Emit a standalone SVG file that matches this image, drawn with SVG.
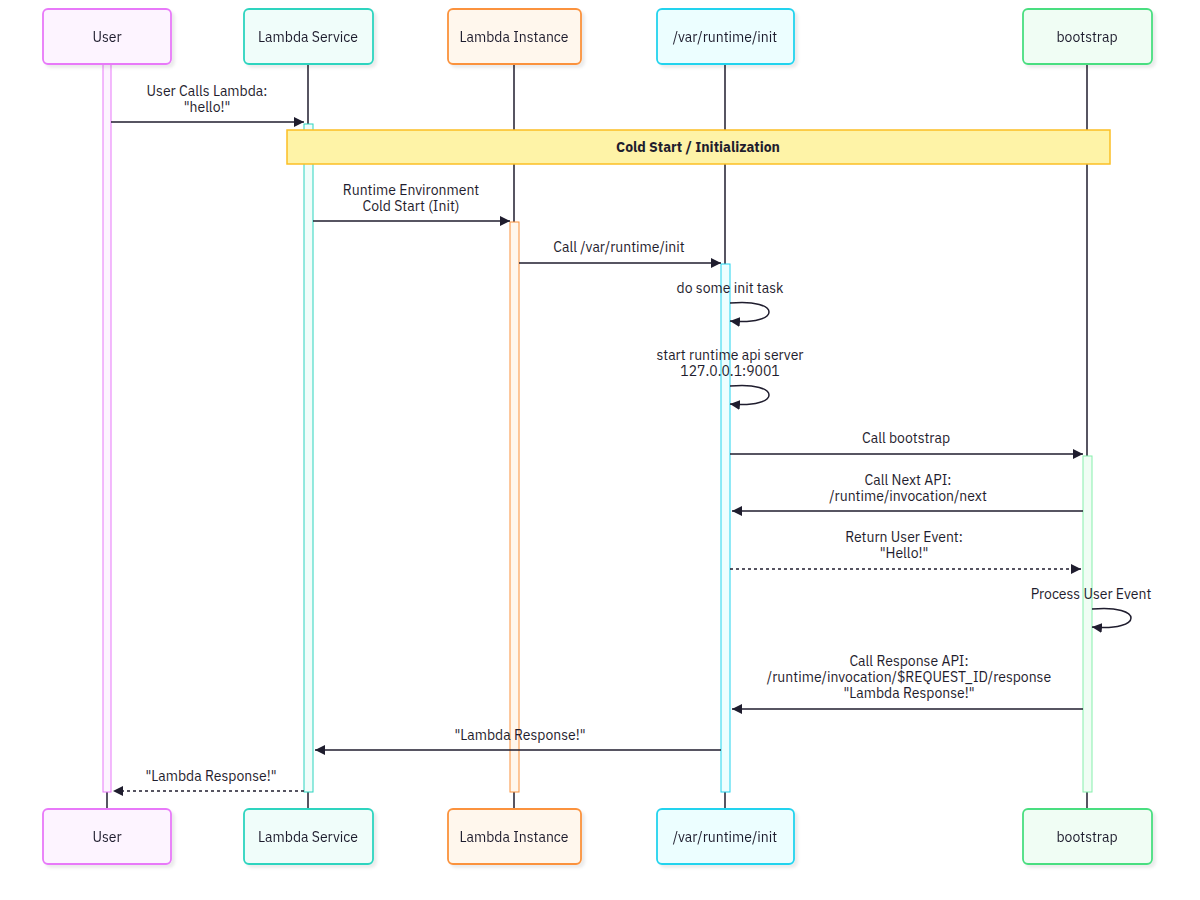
<svg xmlns="http://www.w3.org/2000/svg" width="1200" height="900" viewBox="0 0 1200 900">
<defs>
<style>
text{font-family:"IBM Plex Sans",Inter,"Noto Sans","DejaVu Sans",sans-serif;font-size:14px;fill:#1f1d2e;text-anchor:middle}
.life{stroke:#1f1d2e;stroke-width:1.5}
.msg{stroke:#1f1d2e;stroke-width:1.5;fill:none}
.dash{stroke-dasharray:3 3}
.box{stroke-width:1.8}
.bold{font-weight:bold}
</style>
<marker id="ah" viewBox="0 0 10 10" refX="10" refY="5" markerWidth="10" markerHeight="10" markerUnits="userSpaceOnUse" orient="auto">
<path d="M0,0 L10,5 L0,10 z" fill="#1f1d2e"/>
</marker>
<filter id="sh" x="-10%" y="-10%" width="130%" height="140%">
<feDropShadow dx="3" dy="3" stdDeviation="1.5" flood-color="#000" flood-opacity="0.08"/>
</filter>
</defs>
<rect width="1200" height="900" fill="#ffffff"/>

<!-- lifelines -->
<g id="lifelines">
<line class="life" x1="107" y1="64" x2="107" y2="809"/>
<line class="life" x1="308" y1="64" x2="308" y2="809"/>
<line class="life" x1="514" y1="64" x2="514" y2="809"/>
<line class="life" x1="725" y1="64" x2="725" y2="809"/>
<line class="life" x1="1087" y1="64" x2="1087" y2="809"/>
</g>

<!-- activations -->
<g id="activations">
<rect x="103" y="64" width="8" height="728" fill="#fdf4ff" stroke="#e879f9" stroke-width="1"/>
<rect x="304" y="124" width="9" height="668" fill="#f0fdfa" stroke="#2dd4bf" stroke-width="1"/>
<rect x="510" y="222" width="9" height="570" fill="#fff7ed" stroke="#fb923c" stroke-width="1"/>
<rect x="721" y="264" width="9" height="528" fill="#ecfeff" stroke="#22d3ee" stroke-width="1"/>
<rect x="1083" y="456" width="9" height="336" fill="#f0fdf4" stroke="#86efac" stroke-width="1"/>
</g>

<!-- note -->
<g id="note-coldstart">
<rect x="287" y="130" width="823" height="34" fill="#fef3a7" stroke="#fbbf24" stroke-width="1.5"/>
<text x="698" y="152" class="bold" font-size="13.5">Cold Start / Initialization</text>
</g>

<!-- participants top -->
<g id="p-user" filter="url(#sh)">
<rect class="box" x="43" y="9" width="128" height="55" rx="5" fill="#fdf4ff" stroke="#e879f9"/>
<text x="107" y="42">User</text>
</g>
<g id="p-lambda-service" filter="url(#sh)">
<rect class="box" x="244" y="9" width="129" height="55" rx="5" fill="#f0fdfa" stroke="#2dd4bf"/>
<text x="308" y="42">Lambda Service</text>
</g>
<g id="p-lambda-instance" filter="url(#sh)">
<rect class="box" x="448" y="9" width="133" height="55" rx="5" fill="#fff7ed" stroke="#fb923c"/>
<text x="514" y="42">Lambda Instance</text>
</g>
<g id="p-init" filter="url(#sh)">
<rect class="box" x="657" y="9" width="137" height="55" rx="5" fill="#ecfeff" stroke="#22d3ee"/>
<text x="725" y="42">/var/runtime/init</text>
</g>
<g id="p-bootstrap" filter="url(#sh)">
<rect class="box" x="1023" y="9" width="129" height="55" rx="5" fill="#f0fdf4" stroke="#4ade80"/>
<text x="1087" y="42">bootstrap</text>
</g>

<!-- participants bottom -->
<g id="p-user-bottom" filter="url(#sh)">
<rect class="box" x="43" y="809" width="128" height="55" rx="5" fill="#fdf4ff" stroke="#e879f9"/>
<text x="107" y="842">User</text>
</g>
<g id="p-lambda-service-bottom" filter="url(#sh)">
<rect class="box" x="244" y="809" width="129" height="55" rx="5" fill="#f0fdfa" stroke="#2dd4bf"/>
<text x="308" y="842">Lambda Service</text>
</g>
<g id="p-lambda-instance-bottom" filter="url(#sh)">
<rect class="box" x="448" y="809" width="133" height="55" rx="5" fill="#fff7ed" stroke="#fb923c"/>
<text x="514" y="842">Lambda Instance</text>
</g>
<g id="p-init-bottom" filter="url(#sh)">
<rect class="box" x="657" y="809" width="137" height="55" rx="5" fill="#ecfeff" stroke="#22d3ee"/>
<text x="725" y="842">/var/runtime/init</text>
</g>
<g id="p-bootstrap-bottom" filter="url(#sh)">
<rect class="box" x="1023" y="809" width="129" height="55" rx="5" fill="#f0fdf4" stroke="#4ade80"/>
<text x="1087" y="842">bootstrap</text>
</g>

<!-- messages -->
<g id="connectors">
<line class="msg" x1="111" y1="122" x2="304" y2="122" marker-end="url(#ah)"/>
<line class="msg" x1="313" y1="221" x2="510" y2="221" marker-end="url(#ah)"/>
<line class="msg" x1="519" y1="263" x2="721" y2="263" marker-end="url(#ah)"/>
<path class="msg" d="M730,303 C782,298 782,326 730,321" marker-end="url(#ah)"/>
<path class="msg" d="M730,386 C782,381 782,409 730,404" marker-end="url(#ah)"/>
<line class="msg" x1="730" y1="454" x2="1083" y2="454" marker-end="url(#ah)"/>
<line class="msg" x1="1083" y1="511" x2="732" y2="511" marker-end="url(#ah)"/>
<line class="msg dash" x1="730" y1="569" x2="1081" y2="569" marker-end="url(#ah)"/>
<path class="msg" d="M1092,609 C1144,604 1144,632 1092,627" marker-end="url(#ah)"/>
<line class="msg" x1="1083" y1="709" x2="732" y2="709" marker-end="url(#ah)"/>
<line class="msg" x1="721" y1="750" x2="315" y2="750" marker-end="url(#ah)"/>
<line class="msg dash" x1="304" y1="791" x2="113" y2="791" marker-end="url(#ah)"/>
</g>

<!-- labels -->
<g id="labels">
<text x="207" y="96">User Calls Lambda:</text>
<text x="207" y="112">"hello!"</text>
<text x="411" y="195">Runtime Environment</text>
<text x="411" y="211">Cold Start (Init)</text>
<text x="619" y="252">Call /var/runtime/init</text>
<text x="730" y="293">do some init task</text>
<text x="730" y="360">start runtime api server</text>
<text x="730" y="376">127.0.0.1:9001</text>
<text x="906" y="443">Call bootstrap</text>
<text x="908" y="485">Call Next API:</text>
<text x="908" y="501">/runtime/invocation/next</text>
<text x="904" y="542">Return User Event:</text>
<text x="904" y="558">"Hello!"</text>
<text x="1091" y="599">Process User Event</text>
<text x="909" y="666">Call Response API:</text>
<text x="909" y="682">/runtime/invocation/$REQUEST_ID/response</text>
<text x="909" y="698">"Lambda Response!"</text>
<text x="520" y="740">"Lambda Response!"</text>
<text x="211" y="781">"Lambda Response!"</text>
</g>
</svg>
